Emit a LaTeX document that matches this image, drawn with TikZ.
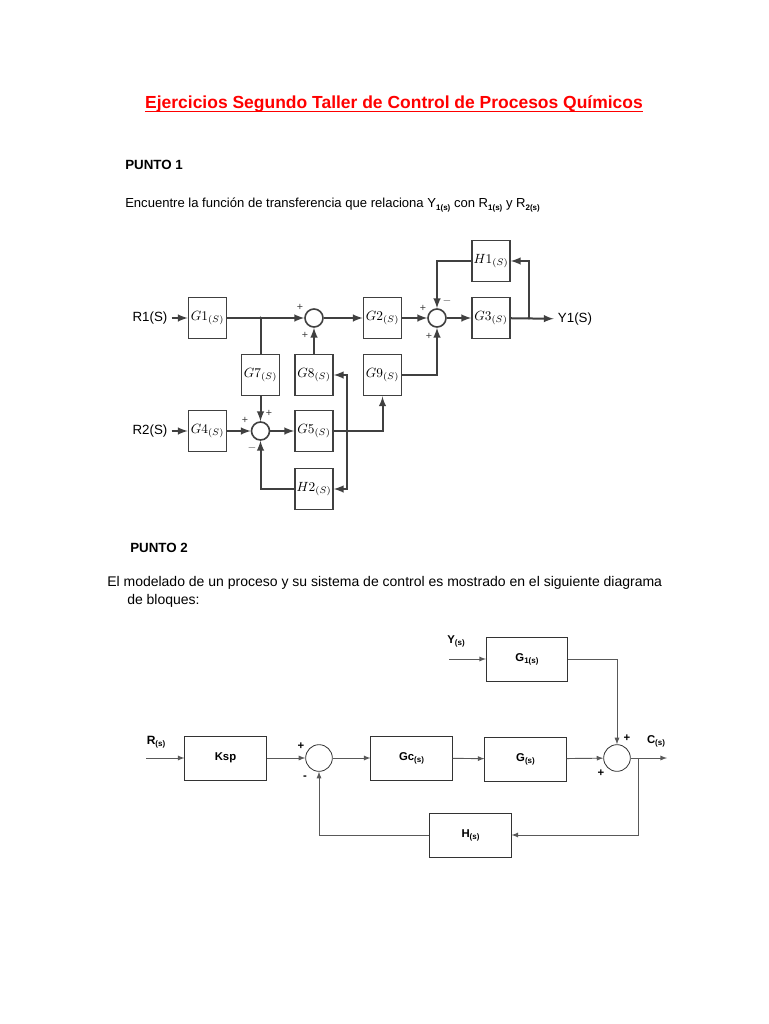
\documentclass[tikz,border=0pt]{standalone}
\usepackage{amsmath}
\usepackage{fontspec}
\setmainfont{Liberation Sans}
\usetikzlibrary{shapes, arrows, fit}
\usetikzlibrary{positioning}

\newcommand{\subtxt}[1]{\raisebox{-0.35ex}{\fontsize{6}{7}\selectfont\bfseries #1}}

\tikzset{
    blk/.style={draw=black!75, line width=1.2pt, minimum width=28.5pt,
        minimum height=31pt, inner sep=0pt, font=\fontsize{10}{12}\selectfont},
    sumn/.style={circle, draw=black!75, line width=1.2pt, minimum size=13.5pt, inner sep=0pt},
    sig/.style={inner sep=0pt, font=\fontsize{8}{9}\selectfont, text=black!75},
    bigblk/.style={draw=black!80, line width=0.6pt, minimum width=61pt,
        minimum height=33pt, inner sep=0pt, font=\fontsize{8.5}{9}\selectfont\bfseries},
    bigsum/.style={circle, draw=black!80, line width=0.6pt, minimum size=20pt, inner sep=0pt},
    bigsig/.style={inner sep=0pt, font=\fontsize{8.5}{9}\selectfont\bfseries},
    txt/.style={inner sep=0pt, anchor=west, font=\fontsize{10}{12}\selectfont},
    io/.style={inner sep=2.5pt, font=\fontsize{10}{12}\selectfont},
}

\begin{document}
\begin{tikzpicture}[x=0.75pt, y=-0.75pt, >=latex]
    \useasboundingbox[fill=white] (0,0) rectangle (768,1024);

    % texts
    \node[inner sep=0pt, text=red, font=\fontsize{13.1}{16}\selectfont\bfseries]
        (title) at (394,104) {Ejercicios Segundo Taller de Control de Procesos Químicos};
    \draw[red, line width=0.9pt] ([yshift=-2.2pt]title.base west) -- ([yshift=-2.2pt]title.base east);
    \node[txt, font=\fontsize{10}{12}\selectfont\bfseries] (p1) at (125,165) {PUNTO 1};
    \node[txt, font=\fontsize{9.8}{12}\selectfont] (q1) at (125,205) {Encuentre la función de transferencia que relaciona
        Y\subtxt{1(s)} con R\subtxt{1(s)} y R\subtxt{2(s)}};
    \node[txt, font=\fontsize{10}{12}\selectfont\bfseries] (p2) at (130,548) {PUNTO 2};
    \node[txt, font=\fontsize{10.5}{12}\selectfont] (q2a) at (107,583) {El modelado de un proceso y su sistema de control es
        mostrado en el siguiente diagrama};
    \node[txt, font=\fontsize{10.5}{12}\selectfont] (q2b) at (127,601) {de bloques:};

    % Punto 1
    \begin{scope}[draw=black!75, line width=1.5pt]
    \node[io] (r1) at (150,318) {R1(S)};
    \node[io] (r2) at (150,431) {R2(S)};
    \node[io] (y1) at (575,319) {Y1(S)};
    \node[blk] (g1) at (207.5,318) {$G1_{(S)}$};
    \node[blk] (g4) at (207.5,431) {$G4_{(S)}$};
    \node[blk] (g7) at (260.5,375) {$G7_{(S)}$};
    \node[blk] (g8) at (314,375) {$G8_{(S)}$};
    \node[blk] (g5) at (314,431) {$G5_{(S)}$};
    \node[blk] (h2) at (314,489) {$H2_{(S)}$};
    \node[blk] (g2) at (382.5,318) {$G2_{(S)}$};
    \node[blk] (g9) at (382.5,375) {$G9_{(S)}$};
    \node[blk] (g3) at (491,318) {$G3_{(S)}$};
    \node[blk] (h1) at (491,261) {$H1_{(S)}$};
    \node[sumn] (s1) at (314,318) {};
    \node[sumn] (s2) at (260.5,431) {};
    \node[sumn] (s3) at (437,318) {};
    \coordinate (b1) at (260.5,318);
    \coordinate (b2) at (347,431);
    \coordinate (b3) at (529,318);

    \draw[->] (r1) -- (g1);
    \draw[->] (g1) -- (s1);
    \draw (b1) -- (g7.north);
    \draw[->] (g7) -- (s2);
    \draw[->] (g8) -- (s1);
    \draw[->] (s1) -- (g2);
    \draw[->] (g2) -- (s3);
    \draw[->] (s3) -- (g3);
    \draw[->] (g3) -- (y1);
    \draw[->] (b3) |- (h1.east);
    \draw[->] (h1.west) -| (s3.north);
    \draw[->] (g9.east) -| (s3.south);
    \draw[->] (r2) -- (g4);
    \draw[->] (g4) -- (s2);
    \draw[->] (s2) -- (g5);
    \draw[->] (g5.east) -| (g9.south);
    \draw[->] (b2) |- (g8.east);
    \draw[->] (b2) |- (h2.east);
    \draw[->] (h2.west) -| (s2.south);
    \foreach \p in {b1,b2,b3}
        \fill[black!75] (\p) circle (1.6);

    \node[sig] (s1a) at (300,307) {+};
    \node[sig] (s1b) at (305,335) {+};
    \node[sig] (s2a) at (245,420) {+};
    \node[sig] (s2b) at (269,413) {+};
    \node[sig] (s2c) at (252,448) {$-$};
    \node[sig] (s3a) at (423,308) {+};
    \node[sig] (s3b) at (447,301) {$-$};
    \node[sig] (s3c) at (429,336) {+};
    \end{scope}

    % Punto 2
    \begin{scope}[draw=black!65, line width=0.7pt]
    \node[inner sep=0pt, font=\fontsize{9}{9}\selectfont\bfseries] (rs) at (156,742) {R\subtxt{(s)}};
    \node[inner sep=0pt, font=\fontsize{8.5}{9}\selectfont\bfseries] (ys) at (456,641) {Y\subtxt{(s)}};
    \node[inner sep=0pt, font=\fontsize{8.5}{9}\selectfont\bfseries] (cs) at (656,741) {C\subtxt{(s)}};
    \node[bigblk] (ksp) at (225.5,758) {Ksp};
    \node[bigblk] (gc) at (411.5,758) {Gc\subtxt{(s)}};
    \node[bigblk] (gg) at (525.5,759) {G\subtxt{(s)}};
    \node[bigblk] (gg1) at (527,659) {G\subtxt{1(s)}};
    \node[bigblk] (hh) at (470.5,835) {H\subtxt{(s)}};
    \node[bigsum] (sa) at (319,758) {};
    \node[bigsum] (sb) at (617,758) {};
    \coordinate (rin) at (146,758);
    \coordinate (yin) at (449,659);
    \coordinate (cout) at (667,758);
    \coordinate (cb) at (638,758);

    \draw[->] (rin) -- (ksp);
    \draw[->] (ksp) -- (sa);
    \draw[->] (sa) -- (gc);
    \draw[->] (gc) -- (gg);
    \draw[->] (gg) -- (sb);
    \draw[->] (yin) -- (gg1);
    \draw[->] (gg1.east) -| (sb.north);
    \draw[->] (sb) -- (cout);
    \draw[->] (cb) |- (hh.east);
    \draw[->] (hh.west) -| (sa.south);

    \node[bigsig] (saa) at (301,746) {+};
    \node[bigsig] (sab) at (305,778) {-};
    \node[bigsig] (sba) at (627,738) {+};
    \node[bigsig] (sbb) at (601,773) {+};
    \end{scope}
\end{tikzpicture}
\end{document}
